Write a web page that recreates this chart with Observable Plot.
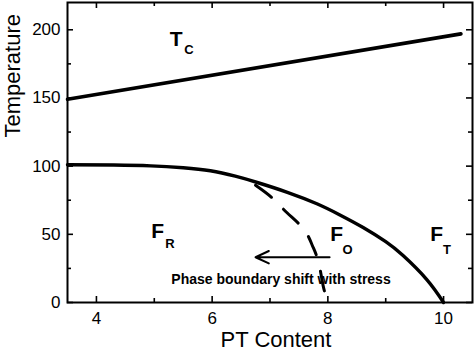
<!DOCTYPE html>
<html>
<head>
<meta charset="utf-8">
<script src="https://cdn.jsdelivr.net/npm/d3@7"></script>
<script src="https://cdn.jsdelivr.net/npm/@observablehq/plot@0.6"></script>
<style>
  html, body { margin: 0; padding: 0; background: #fff; }
  #chart { width: 474px; height: 351px; }
  svg { font-family: Arial, "Liberation Sans", sans-serif; }
</style>
</head>
<body>
<div id="chart"></div>
<script>
// Curie temperature line (x, T)
const tcX = [3.5, 10.3];
const tcY = [149, 197];
// Solid phase boundary
const boundX = [3.5, 4.3, 4.94, 5.5, 5.97, 6.4, 6.78, 7.3, 7.81, 8.2, 8.61, 9.0, 9.30, 9.71, 10.0];
const boundY = [101, 100.8, 100.2, 98.8, 96.6, 92.6, 88.0, 80.8, 72.4, 64.4, 55.0, 44.6, 34.4, 16.8, 0];
// Dashed shifted boundary
const dashX = [6.75, 7.03, 7.29, 7.58, 7.73, 7.84, 7.92, 8.01];
const dashY = [86, 77, 66, 54, 42, 29.5, 12, 0];
// Arrow (start -> end)
const arrowX = [8.03, 6.75];
const arrowY = [33.2, 33.2];
// Region labels
const mainLabels = ["T", "F", "F", "F"];
const mainX = [5.38, 5.06, 8.15, 9.88];
const mainY = [188, 47.6, 45.4, 45.4];
const subLabels = ["C", "R", "O", "T"];
const subX = [5.60, 5.27, 8.34, 10.06];
const subY = [182, 40.3, 35.9, 35.9];
const noteText = ["Phase boundary shift with stress"];
const noteX = [7.19];
const noteY = [13.9];
// Ticks
const xMajor = [4, 6, 8, 10];
const xMinor = [5, 7, 9];
const yMajor = [0, 50, 100, 150, 200];
const yMinor = [25, 75, 125, 175];

const tc = tcX.map((x, i) => ({x, y: tcY[i]}));
const bound = boundX.map((x, i) => ({x, y: boundY[i]}));
const dash = dashX.map((x, i) => ({x, y: dashY[i]}));
const arrow = [{x1: arrowX[0], y1: arrowY[0], x2: arrowX[1], y2: arrowY[1]}];
const mains = mainLabels.map((t, i) => ({t, x: mainX[i], y: mainY[i]}));
const subs = subLabels.map((t, i) => ({t, x: subX[i], y: subY[i]}));
const notes = noteText.map((t, i) => ({t, x: noteX[i], y: noteY[i]}));

const W = 474, H = 351, mL = 67, mR = 2, mT = 2, mB = 49;
const innerH = H - mT - mB, innerW = W - mL - mR;
const maj = 6, mnr = 4;

const chart = Plot.plot({
  width: W, height: H,
  marginLeft: mL, marginRight: mR, marginTop: mT, marginBottom: mB,
  style: {fontFamily: "Arial, 'Liberation Sans', sans-serif", color: "#000", background: "#fff"},
  x: {domain: [3.5, 10.5]},
  y: {domain: [0, 220]},
  marks: [
    Plot.axisX(xMajor, {tickSize: 0, tickPadding: 9, fontSize: 17, label: null}),
    Plot.axisY(yMajor, {tickSize: 0, tickPadding: 7, fontSize: 17, label: null}),
    // inward ticks
    Plot.tickX(xMajor, {x: d => d, insetTop: innerH - maj, strokeWidth: 1.6, stroke: "#000"}),
    Plot.tickX(xMajor, {x: d => d, insetBottom: innerH - maj, strokeWidth: 1.6, stroke: "#000"}),
    Plot.tickX(xMinor, {x: d => d, insetTop: innerH - mnr, strokeWidth: 1.6, stroke: "#000"}),
    Plot.tickX(xMinor, {x: d => d, insetBottom: innerH - mnr, strokeWidth: 1.6, stroke: "#000"}),
    Plot.tickY(yMajor, {y: d => d, insetRight: innerW - maj, strokeWidth: 1.6, stroke: "#000"}),
    Plot.tickY(yMajor, {y: d => d, insetLeft: innerW - maj, strokeWidth: 1.6, stroke: "#000"}),
    Plot.tickY(yMinor, {y: d => d, insetRight: innerW - mnr, strokeWidth: 1.6, stroke: "#000"}),
    Plot.tickY(yMinor, {y: d => d, insetLeft: innerW - mnr, strokeWidth: 1.6, stroke: "#000"}),
    Plot.line(tc, {x: "x", y: "y", stroke: "#000", strokeWidth: 3.6}),
    Plot.line(bound, {x: "x", y: "y", stroke: "#000", strokeWidth: 3.4, curve: "natural"}),
    Plot.line(dash, {x: "x", y: "y", stroke: "#000", strokeWidth: 3, curve: "natural", strokeDasharray: "20,17"}),
    Plot.arrow(arrow, {x1: "x1", y1: "y1", x2: "x2", y2: "y2", stroke: "#000", strokeWidth: 2, headLength: 11, headAngle: 50}),
    Plot.text(mains, {x: "x", y: "y", text: "t", fontSize: 21, fontWeight: "bold", lineAnchor: "bottom", fill: "#000"}),
    Plot.text(subs, {x: "x", y: "y", text: "t", fontSize: 13, fontWeight: "bold", lineAnchor: "bottom", fill: "#000"}),
    Plot.text(notes, {x: "x", y: "y", text: "t", fontSize: 14, fontWeight: "bold", lineAnchor: "bottom", fill: "#000"}),
    Plot.text(["PT Content"], {frameAnchor: "bottom", text: d => d, dx: 6, dy: 44, lineAnchor: "bottom", fontSize: 22, fill: "#000"}),
    Plot.text(["Temperature"], {frameAnchor: "left", text: d => d, rotate: -90, dx: -48, dy: -15, lineAnchor: "bottom", fontSize: 22, fill: "#000"}),
    Plot.frame({stroke: "#000", strokeWidth: 2})
  ]
});
document.getElementById("chart").appendChild(chart);
</script>
</body>
</html>
